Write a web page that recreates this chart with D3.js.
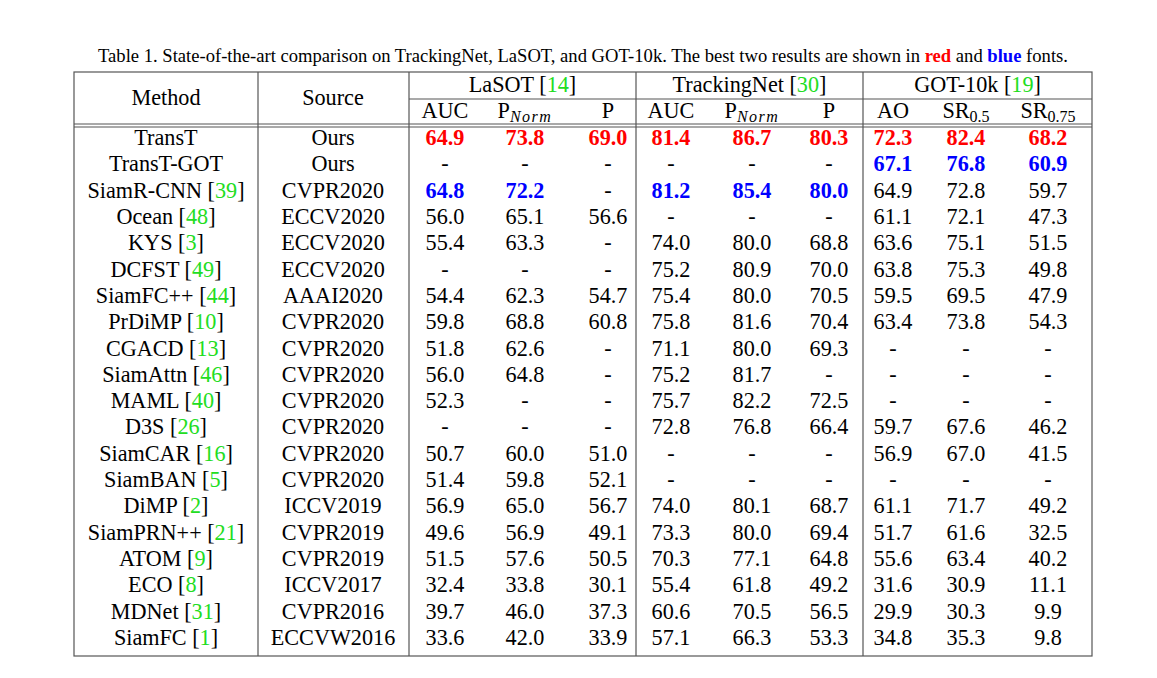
<!DOCTYPE html><html><head><meta charset="utf-8"><script src="https://cdn.jsdelivr.net/npm/d3@7"></script>
<style>body{margin:0;background:#fff}</style></head><body><svg id="c" width="1157" height="678"></svg>
<script>
const methods=["TransT","TransT-GOT","SiamR-CNN","Ocean","KYS","DCFST","SiamFC++","PrDiMP","CGACD","SiamAttn","MAML","D3S","SiamCAR","SiamBAN","DiMP","SiamPRN++","ATOM","ECO","MDNet","SiamFC"];
const refs=[null,null,39,48,3,49,44,10,13,46,40,26,16,5,2,21,9,8,31,1];
const sources=["Ours","Ours","CVPR2020","ECCV2020","ECCV2020","ECCV2020","AAAI2020","CVPR2020","CVPR2020","CVPR2020","CVPR2020","CVPR2020","CVPR2020","CVPR2020","ICCV2019","CVPR2019","CVPR2019","ICCV2017","CVPR2016","ECCVW2016"];
const lasotAUC=["64.9","-","64.8","56.0","55.4","-","54.4","59.8","51.8","56.0","52.3","-","50.7","51.4","56.9","49.6","51.5","32.4","39.7","33.6"];
const lasotPN=["73.8","-","72.2","65.1","63.3","-","62.3","68.8","62.6","64.8","-","-","60.0","59.8","65.0","56.9","57.6","33.8","46.0","42.0"];
const lasotP=["69.0","-","-","56.6","-","-","54.7","60.8","-","-","-","-","51.0","52.1","56.7","49.1","50.5","30.1","37.3","33.9"];
const tnAUC=["81.4","-","81.2","-","74.0","75.2","75.4","75.8","71.1","75.2","75.7","72.8","-","-","74.0","73.3","70.3","55.4","60.6","57.1"];
const tnPN=["86.7","-","85.4","-","80.0","80.9","80.0","81.6","80.0","81.7","82.2","76.8","-","-","80.1","80.0","77.1","61.8","70.5","66.3"];
const tnP=["80.3","-","80.0","-","68.8","70.0","70.5","70.4","69.3","-","72.5","66.4","-","-","68.7","69.4","64.8","49.2","56.5","53.3"];
const gotAO=["72.3","67.1","64.9","61.1","63.6","63.8","59.5","63.4","-","-","-","59.7","56.9","-","61.1","51.7","55.6","31.6","29.9","34.8"];
const gotSR5=["82.4","76.8","72.8","72.1","75.1","75.3","69.5","73.8","-","-","-","67.6","67.0","-","71.7","61.6","63.4","30.9","30.3","35.3"];
const gotSR75=["68.2","60.9","59.7","47.3","51.5","49.8","47.9","54.3","-","-","-","46.2","41.5","-","49.2","32.5","40.2","11.1","9.9","9.8"];
const rankRed={0:[0,1,2,3,4,5,6,7,8]};
const rankBlue={1:[6,7,8],2:[0,1,3,4,5]};
const cols=[lasotAUC,lasotPN,lasotP,tnAUC,tnPN,tnP,gotAO,gotSR5,gotSR75];
const subHeads=[["AUC",""],["P","Norm"],["P",""],["AUC",""],["P","Norm"],["P",""],["AO",""],["SR","0.5"],["SR","0.75"]];
const groups=[["LaSOT",14],["TrackingNet",30],["GOT-10k",19]];

const svg=d3.select("#c");
const F="'Liberation Serif','Times New Roman',serif";
const L=74,R=1092,T=72,B=656;
const vx=[L,258,409,636,863,R];
const subX=[445,525,608,671,752,829,893,966,1048];
const y=d3.scaleBand().domain(d3.range(methods.length)).range([125,651]);
const line=(x1,y1,x2,y2,c="#555")=>svg.append("line").attr("x1",x1).attr("y1",y1).attr("x2",x2).attr("y2",y2).attr("stroke",c).attr("stroke-width",1.2);
const cap=svg.append("text").attr("x",583).attr("y",62).attr("text-anchor","middle").attr("font-family",F).attr("font-size",18.6);
cap.append("tspan").text("Table 1. State-of-the-art comparison on TrackingNet, LaSOT, and GOT-10k. The best two results are shown in ");
cap.append("tspan").attr("fill","#f00").attr("font-weight","bold").text("red");
cap.append("tspan").text(" and ");
cap.append("tspan").attr("fill","#00f").attr("font-weight","bold").text("blue");
cap.append("tspan").text(" fonts.");
svg.append("rect").attr("x",L).attr("y",T).attr("width",R-L).attr("height",B-T).attr("fill","none").attr("stroke","#555").attr("stroke-width",1.2);
vx.slice(1,5).forEach(x=>line(x,T,x,B));
line(409,99,R,99);
line(L,124,R,124);line(L,127,R,127);
const txt=(x,yy,s,o={})=>svg.append("text").attr("x",x).attr("y",yy).attr("text-anchor","middle").attr("font-family",F).attr("font-size",o.size||22.2).attr("fill",o.fill||"#000").attr("font-weight",o.bold?"bold":"normal").text(s);
txt(166,105,"Method");txt(333,105,"Source");
groups.forEach((g,i)=>{const t=txt((vx[i+2]+vx[i+3])/2,92,g[0]+" [");t.append("tspan").attr("fill","#2d2").text(g[1]);t.append("tspan").text("]");});
subHeads.forEach((h,i)=>{const t=txt(subX[i],118,h[0]);if(h[1])t.append("tspan").attr("font-size",16).attr("dy",4).attr("font-style",h[1]==="Norm"?"italic":"normal").attr("letter-spacing",h[1]==="Norm"?1.5:0).text(h[1]);});
methods.forEach((m,r)=>{
  const yy=y(r)+y.bandwidth()/2+7;
  const t=txt(166,yy,m+(refs[r]!=null?" [":""));
  if(refs[r]!=null){t.append("tspan").attr("fill","#2d2").text(refs[r]);t.append("tspan").text("]");}
  txt(333,yy,sources[r]);
  cols.forEach((c,i)=>{
    const red=(rankRed[r]||[]).includes(i),blue=(rankBlue[r]||[]).includes(i);
    txt(subX[i],yy,c[r],{fill:red?"#f00":blue?"#00f":"#000",bold:red||blue});
  });
});
</script></body></html>
